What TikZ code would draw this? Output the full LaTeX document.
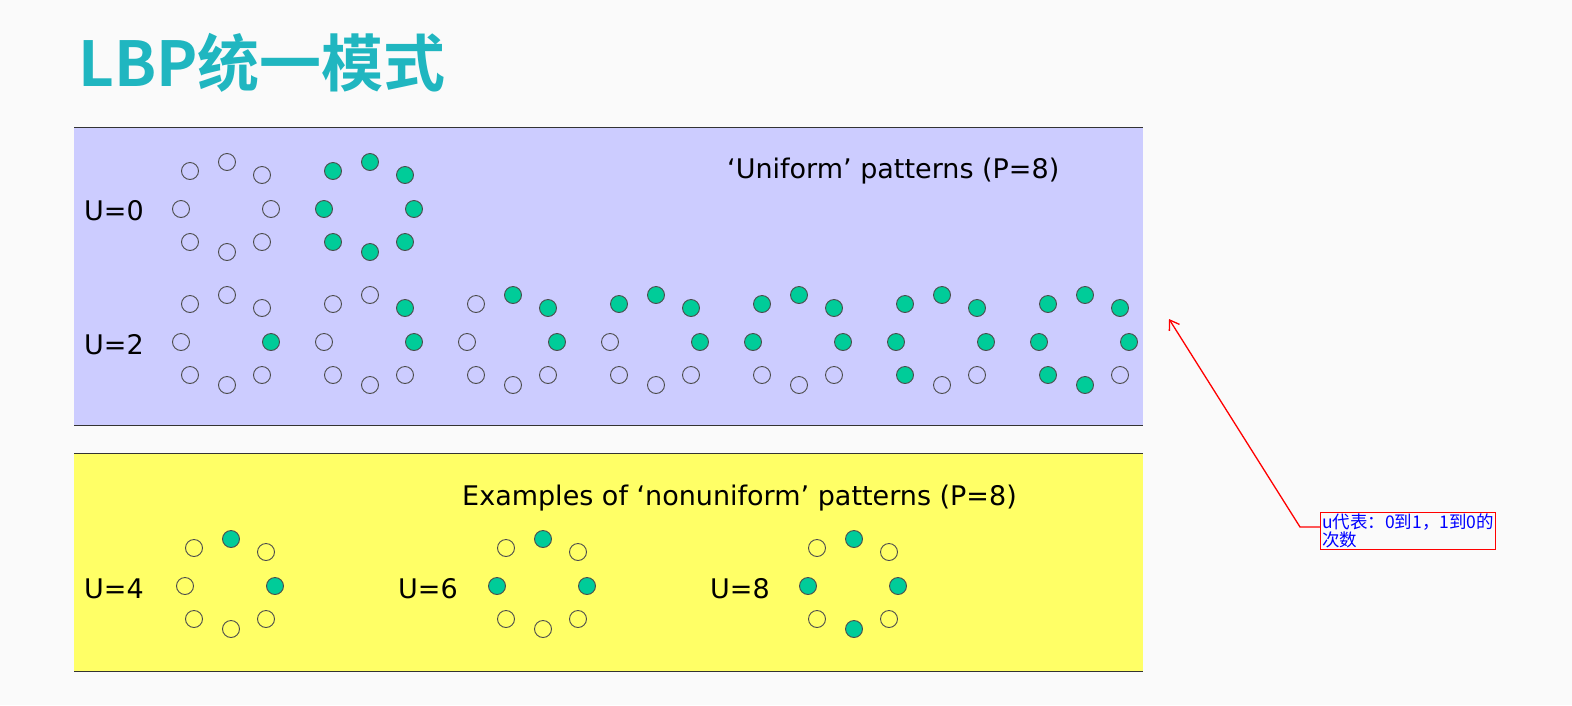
\documentclass[tikz,border=0pt]{standalone}
\usepackage{fontspec}
\setmainfont{DejaVu Sans}
\newfontfamily\cjk{Noto Sans CJK SC}
\newfontfamily\cjkbold{Noto Sans CJK SC Bold}
\usetikzlibrary{positioning,arrows.meta}
\definecolor{bandblue}{RGB}{204,204,255}
\definecolor{bandyellow}{RGB}{255,255,102}
\definecolor{dotgreen}{RGB}{0,204,153}
\definecolor{titleteal}{RGB}{32,182,192}
\definecolor{pagegray}{RGB}{250,250,250}
\tikzset{
  offcirc/.style={circle,draw=black!70,line width=0.9pt,minimum size=17pt,inner sep=0pt},
  oncirc/.style={offcirc,fill=dotgreen},
  ulabel/.style={font=\fontsize{27}{30}\selectfont,anchor=west,inner sep=0pt},
  head/.style={anchor=base west,inner sep=0pt,font=\fontsize{27}{30}\selectfont},
  note/.style={draw=red,line width=1.3pt,inner sep=1.5pt,align=left,text=blue,font=\cjk\fontsize{17.5}{16.5}\selectfont}
}
% one LBP ring: name, centre x, centre y, flags clockwise from top
\newcommand\lbpring[4]{%
  \foreach \dx/\dy [count=\k] in {0/-47,35/-34,44/0,35/33,0/43,-37/33,-46/0,-37/-38}{
    \pgfmathtruncatemacro\f{{#4}[\k-1]}
    \ifnum\f=1 \def\st{oncirc}\else\def\st{offcirc}\fi
    \node[\st] (#1-\k) at (#2+\dx,#3+\dy) {};
  }}
\begin{document}
\begin{tikzpicture}[x=1pt,y=-1pt]
  \fill[pagegray] (0,0) rectangle (1572,705);
  \useasboundingbox (0,0) rectangle (1572,705);
  \node[anchor=base west,inner sep=0pt,text=titleteal,font=\cjkbold\fontsize{62}{62}\selectfont] (title) at (78,86) {LBP统一模式};

  % bands
  \fill[bandblue] (74,127) rectangle (1143,425);
  \draw[black!80] (74,127) -- (1143,127) (74,425) -- (1143,425);
  \fill[bandyellow] (74,453) rectangle (1143,671);
  \draw[black!80] (74,453) -- (1143,453) (74,671) -- (1143,671);

  \node[head] (unihead) at (727,178) {‘Uniform’ patterns (P=8)};
  \node[head] (nonhead) at (462,505) {Examples of ‘nonuniform’ patterns (P=8)};

  % U=0 and U=2
  \node[ulabel] (u0) at (84,211) {U=0};
  \lbpring{a}{227}{209}{0,0,0,0,0,0,0,0}
  \lbpring{b}{370}{209}{1,1,1,1,1,1,1,1}
  \node[ulabel] (u2) at (84,345) {U=2};
  \lbpring{c1}{227}{342}{0,0,1,0,0,0,0,0}
  \lbpring{c2}{370}{342}{0,1,1,0,0,0,0,0}
  \lbpring{c3}{513}{342}{1,1,1,0,0,0,0,0}
  \lbpring{c4}{656}{342}{1,1,1,0,0,0,0,1}
  \lbpring{c5}{799}{342}{1,1,1,0,0,0,1,1}
  \lbpring{c6}{942}{342}{1,1,1,0,0,1,1,1}
  \lbpring{c7}{1085}{342}{1,1,1,0,1,1,1,1}

  % nonuniform
  \node[ulabel] (u4) at (84,589) {U=4};
  \lbpring{d1}{231}{586}{1,0,1,0,0,0,0,0}
  \node[ulabel] (u6) at (398,589) {U=6};
  \lbpring{d2}{543}{586}{1,0,1,0,0,0,1,0}
  \node[ulabel] (u8) at (710,589) {U=8};
  \lbpring{d3}{854}{586}{1,0,1,0,1,0,1,0}

  % annotation
  \node[note,anchor=north west] (ubox) at (1320,512) {u代表：0到1，1到0的\\次数};
  \coordinate (tip) at (1169,319);
  \coordinate (knee) at (1300,527);
  \draw[red,line width=1.3pt,-{Straight Barb[length=9pt,width=12pt]}] (ubox.west |- knee) -- (knee) -- (tip);
\end{tikzpicture}
\end{document}
